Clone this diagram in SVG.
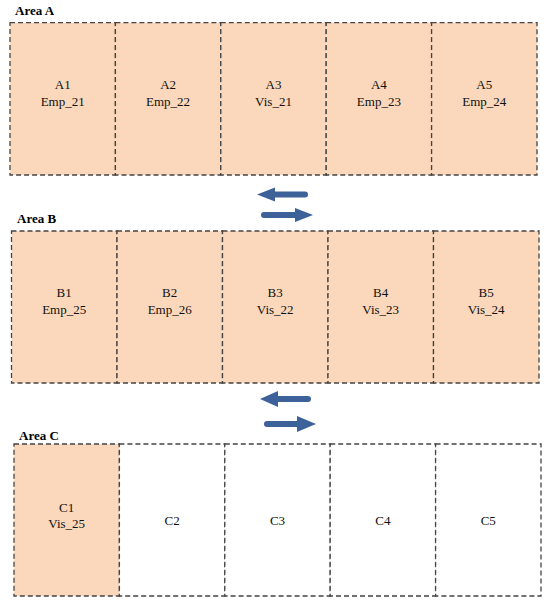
<svg xmlns="http://www.w3.org/2000/svg" width="550" height="607" viewBox="0 0 550 607">
<style>
.cell{stroke:#444;stroke-width:1.3;stroke-dasharray:5,3;}
.f{fill:#fbd8bb;}
.w{fill:#ffffff;}
.t{font-family:"Liberation Serif","Times New Roman",serif;font-size:13px;fill:#111;text-anchor:middle;}
.h{font-family:"Liberation Serif","Times New Roman",serif;font-size:13px;font-weight:bold;fill:#000;}
.shaft{stroke:#3d6199;stroke-width:6;stroke-linecap:round;fill:none;}
.head{fill:#3d6199;}
</style>
<rect width="550" height="607" fill="#ffffff"/>
<text class="h" x="15" y="15">Area A</text>
<text class="h" x="17" y="223">Area B</text>
<text class="h" x="19" y="440">Area C</text>

<g id="A1"><rect class="cell f" x="10" y="22.7" width="105.4" height="152.3"/><text class="t" x="62.7" y="89">A1</text><text class="t" x="62.7" y="106">Emp_21</text></g>
<g id="A2"><rect class="cell f" x="115.4" y="22.7" width="105.4" height="152.3"/><text class="t" x="168.1" y="89">A2</text><text class="t" x="168.1" y="106">Emp_22</text></g>
<g id="A3"><rect class="cell f" x="220.8" y="22.7" width="105.4" height="152.3"/><text class="t" x="273.5" y="89">A3</text><text class="t" x="273.5" y="106">Vis_21</text></g>
<g id="A4"><rect class="cell f" x="326.2" y="22.7" width="105.4" height="152.3"/><text class="t" x="378.9" y="89">A4</text><text class="t" x="378.9" y="106">Emp_23</text></g>
<g id="A5"><rect class="cell f" x="431.6" y="22.7" width="105.4" height="152.3"/><text class="t" x="484.3" y="89">A5</text><text class="t" x="484.3" y="106">Emp_24</text></g>

<g id="B1"><rect class="cell f" x="11.5" y="231" width="105.5" height="152"/><text class="t" x="64.2" y="297">B1</text><text class="t" x="64.2" y="314">Emp_25</text></g>
<g id="B2"><rect class="cell f" x="117" y="231" width="105.5" height="152"/><text class="t" x="169.7" y="297">B2</text><text class="t" x="169.7" y="314">Emp_26</text></g>
<g id="B3"><rect class="cell f" x="222.5" y="231" width="105.5" height="152"/><text class="t" x="275.2" y="297">B3</text><text class="t" x="275.2" y="314">Vis_22</text></g>
<g id="B4"><rect class="cell f" x="328" y="231" width="105.5" height="152"/><text class="t" x="380.7" y="297">B4</text><text class="t" x="380.7" y="314">Vis_23</text></g>
<g id="B5"><rect class="cell f" x="433.5" y="231" width="105.5" height="152"/><text class="t" x="486.2" y="297">B5</text><text class="t" x="486.2" y="314">Vis_24</text></g>

<g id="C1"><rect class="cell f" x="14" y="444" width="105.4" height="152"/><text class="t" x="66.7" y="512">C1</text><text class="t" x="66.7" y="528">Vis_25</text></g>
<g id="C2"><rect class="cell w" x="119.4" y="444" width="105.4" height="152"/><text class="t" x="172.1" y="525">C2</text></g>
<g id="C3"><rect class="cell w" x="224.8" y="444" width="105.4" height="152"/><text class="t" x="277.5" y="525">C3</text></g>
<g id="C4"><rect class="cell w" x="330.2" y="444" width="105.4" height="152"/><text class="t" x="382.9" y="525">C4</text></g>
<g id="C5"><rect class="cell w" x="435.6" y="444" width="105.4" height="152"/><text class="t" x="488.3" y="525">C5</text></g>

<g id="connectors">
<line class="shaft" x1="272" y1="194.5" x2="305" y2="194.5"/>
<polygon class="head" points="257,194.5 275,187.5 275,201.5"/>
<line class="shaft" x1="264" y1="215" x2="297" y2="215"/>
<polygon class="head" points="313,215 295,208 295,222"/>
<line class="shaft" x1="275" y1="399" x2="308" y2="399"/>
<polygon class="head" points="260,399 278,391 278,407"/>
<line class="shaft" x1="267" y1="424" x2="299" y2="424"/>
<polygon class="head" points="316,424 297,416 297,432"/>
</g>
</svg>
